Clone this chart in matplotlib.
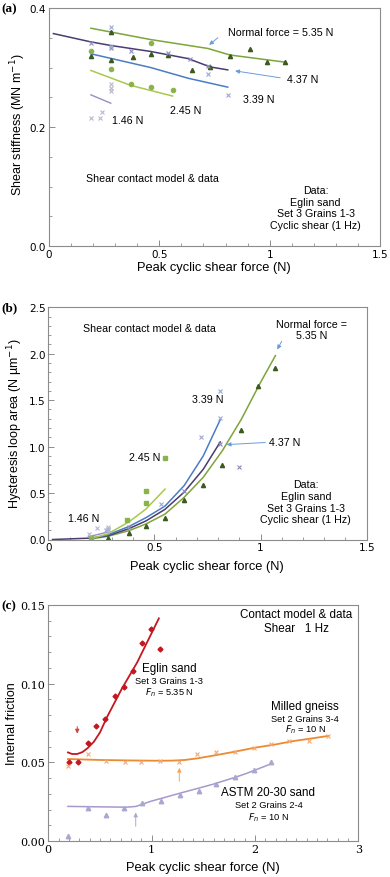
import matplotlib
matplotlib.use("Agg")
from matplotlib import pyplot as plt
from matplotlib.ticker import MultipleLocator, FixedLocator

# ---------------- panel (a): shear stiffness ----------------
a535_line_x = [0.19, 0.46, 0.72, 0.82, 1.07]
a535_line_y = [0.366, 0.347, 0.332, 0.321, 0.309]
a535_pts_x = [0.19, 0.28, 0.38, 0.46, 0.54, 0.65, 0.73, 0.82, 0.91, 0.99, 1.07, 0.28]
a535_pts_y = [0.320, 0.312, 0.317, 0.322, 0.321, 0.296, 0.301, 0.319, 0.331, 0.309, 0.309, 0.360]

a437_line_x = [0.02, 0.19, 0.28, 0.46, 0.63, 0.73, 0.81]
a437_line_y = [0.357, 0.343, 0.337, 0.327, 0.315, 0.301, 0.296]
a437_pts_x = [0.19, 0.28, 0.37, 0.54, 0.64, 0.72]
a437_pts_y = [0.342, 0.332, 0.328, 0.325, 0.314, 0.302]

a339_line_x = [0.19, 0.46, 0.63, 0.81]
a339_line_y = [0.323, 0.300, 0.282, 0.267]
a339_pts_x = [0.28, 0.28, 0.72, 0.81]
a339_pts_y = [0.368, 0.336, 0.289, 0.253]

a245_line_x = [0.19, 0.37, 0.56]
a245_line_y = [0.295, 0.270, 0.252]
a245_pts_x = [0.19, 0.28, 0.37, 0.46, 0.56, 0.46]
a245_pts_y = [0.327, 0.297, 0.272, 0.267, 0.263, 0.341]

a146_line_x = [0.19, 0.28]
a146_line_y = [0.254, 0.240]
a146_pts_x = [0.19, 0.23, 0.24, 0.28, 0.28, 0.28]
a146_pts_y = [0.215, 0.215, 0.225, 0.272, 0.266, 0.261]

# ---------------- panel (b): hysteresis loop area ----------------
b535_line_x = [0.20, 0.28, 0.38, 0.46, 0.55, 0.64, 0.73, 0.82, 0.91, 1.00, 1.07]
b535_line_y = [0.005, 0.034, 0.095, 0.167, 0.274, 0.454, 0.670, 0.956, 1.297, 1.692, 1.98]
b535_pts_x = [0.28, 0.38, 0.46, 0.55, 0.64, 0.73, 0.82, 0.91, 0.99, 1.07]
b535_pts_y = [0.02, 0.074, 0.14, 0.23, 0.42, 0.59, 0.80, 1.18, 1.65, 1.85]

b437_line_x = [0.02, 0.20, 0.28, 0.38, 0.46, 0.55, 0.64, 0.73, 0.81]
b437_line_y = [0.0, 0.015, 0.04, 0.117, 0.20, 0.325, 0.51, 0.756, 1.05]
b437_pts_x = [0.28, 0.38, 0.64, 0.81, 0.90]
b437_pts_y = [0.11, 0.13, 0.52, 1.03, 0.78]

b339_line_x = [0.20, 0.28, 0.38, 0.46, 0.55, 0.64, 0.73, 0.81]
b339_line_y = [0.01, 0.05, 0.14, 0.235, 0.36, 0.58, 0.90, 1.29]
b339_pts_x = [0.27, 0.53, 0.72, 0.81, 0.81]
b339_pts_y = [0.10, 0.38, 1.10, 1.31, 1.60]

b245_line_x = [0.20, 0.28, 0.38, 0.46, 0.55]
b245_line_y = [0.01, 0.06, 0.19, 0.328, 0.543]
b245_pts_x = [0.20, 0.37, 0.46, 0.46, 0.55]
b245_pts_y = [0.013, 0.213, 0.393, 0.525, 0.877]

b146_line_x = [0.19, 0.28]
b146_line_y = [0.03, 0.08]
b146_pts_x = [0.19, 0.23, 0.28, 0.28]
b146_pts_y = [0.06, 0.12, 0.13, 0.10]

# ---------------- panel (c): internal friction ----------------
eglin_line_x = [0.19, 0.23, 0.28, 0.33, 0.38, 0.44, 0.50, 0.57, 0.71, 0.86, 1.07]
eglin_line_y = [0.0563, 0.0553, 0.0553, 0.0565, 0.0590, 0.0630, 0.0690, 0.0790, 0.0966, 0.1135, 0.1415]
eglin_pts_x = [0.20, 0.29, 0.38, 0.46, 0.55, 0.65, 0.73, 0.82, 0.91, 0.99, 1.08]
eglin_pts_y = [0.050, 0.050, 0.0623, 0.073, 0.0775, 0.0919, 0.0977, 0.108, 0.126, 0.135, 0.122]

gneiss_line_x = [0.19, 0.50, 0.80, 1.08, 1.20, 1.32, 1.44, 1.60, 1.80, 1.99, 2.20, 2.37, 2.55, 2.71]
gneiss_line_y = [0.0521, 0.0515, 0.0512, 0.0510, 0.0511, 0.0515, 0.0525, 0.0543, 0.0567, 0.0592, 0.0614,
                 0.0635, 0.0652, 0.0668]
gneiss_pts_x = [0.19, 0.38, 0.56, 0.74, 0.90, 1.08, 1.26, 1.44, 1.62, 1.81, 1.99, 2.16, 2.33, 2.52, 2.71]
gneiss_pts_y = [0.0475, 0.0553, 0.0510, 0.0500, 0.0504, 0.0510, 0.0500, 0.0553, 0.0563, 0.0567, 0.0589,
                0.0616, 0.0637, 0.0637, 0.0665]

astm_line_x = [0.19, 0.50, 0.76, 0.85, 0.92, 0.99, 1.10, 1.28, 1.45, 1.60, 1.80, 1.92, 2.15]
astm_line_y = [0.0220, 0.0217, 0.0215, 0.0220, 0.0236, 0.0252, 0.0272, 0.0305, 0.0335, 0.0362, 0.0403,
               0.0430, 0.0489]
astm_pts_x = [0.19, 0.38, 0.56, 0.73, 0.91, 1.09, 1.27, 1.46, 1.62, 1.81, 1.99, 2.16]
astm_pts_y = [0.0030, 0.0210, 0.0165, 0.0210, 0.0241, 0.0256, 0.0294, 0.0315, 0.0362, 0.0404, 0.0453, 0.0504]

# tick positions / labels
ab_xticks = [0, 0.5, 1, 1.5]
ab_xlabels = ["0", "0.5", "1", "1.5"]
a_yticks = [0, 0.2, 0.4]
a_ylabels = ["0.0", "0.2", "0.4"]
b_yticks = [0, 0.5, 1.0, 1.5, 2.0, 2.5]
b_ylabels = ["0.0", "0.5", "1.0", "1.5", "2.0", "2.5"]
c_xticks = [0, 1, 2, 3]
c_xlabels = ["0", "1", "2", "3"]
c_yticks = [0, 0.05, 0.10, 0.15]
c_ylabels = ["0.00", "0.05", "0.10", "0.15"]

W, H = 390, 878
SANS = "Liberation Sans"
GRID = "#8c8c8c"

fig = plt.figure(figsize=(W / 100, H / 100), dpi=100)


def box(l, t, r, b):
    return [l / W, 1 - b / H, (r - l) / W, (b - t) / H]


def style(ax, xt, xl, yt, yl, xminor, yminor, tickfont="DejaVu Sans", size=7.5):
    ax.xaxis.set_major_locator(FixedLocator(xt))
    ax.set_xticklabels(xl)
    ax.yaxis.set_major_locator(FixedLocator(yt))
    ax.set_yticklabels(yl)
    ax.xaxis.set_minor_locator(MultipleLocator(xminor))
    ax.yaxis.set_minor_locator(MultipleLocator(yminor))
    for s in ax.spines.values():
        s.set_color(GRID)
        s.set_linewidth(0.8)
    ax.tick_params(which="both", direction="in", colors=GRID, labelcolor="black",
                   labelsize=size, pad=2)
    ax.tick_params(which="major", length=4, width=0.7)
    ax.tick_params(which="minor", length=2.5, width=0.6)
    for lab in ax.get_xticklabels() + ax.get_yticklabels():
        lab.set_family(tickfont)


green_dk = "#3c5a1e"
green_ln = "#7ea43a"
purple_ln = "#4a3c70"
blue_ln = "#4a7cc4"
lime_ln = "#a9c94a"
lav_ln = "#9a8cc8"
arrow_c = "#6c9cd8"

# ---- (a)
ax = fig.add_axes(box(49, 9, 380, 247))
ax.plot(a535_line_x, a535_line_y, color=green_ln, lw=1.1)
ax.plot(a437_line_x, a437_line_y, color=purple_ln, lw=1.1)
ax.plot(a339_line_x, a339_line_y, color=blue_ln, lw=1.1)
ax.plot(a245_line_x, a245_line_y, color=lime_ln, lw=1.1)
ax.plot(a146_line_x, a146_line_y, color=lav_ln, lw=1.0)
ax.plot(a535_pts_x, a535_pts_y, "^", color=green_dk, ms=3, ls="none")
ax.plot(a437_pts_x, a437_pts_y, "x", color="#8c8cc0", ms=3, mew=0.8, ls="none")
ax.plot(a339_pts_x, a339_pts_y, "x", color="#9aa8d8", ms=3, mew=0.8, ls="none")
ax.plot(a245_pts_x, a245_pts_y, "o", color="#8ab44a", ms=3, ls="none")
ax.plot(a146_pts_x, a146_pts_y, "x", color="#b8b8cc", ms=3, mew=0.8, ls="none")
ax.set_xlim(0, 1.5)
ax.set_ylim(0, 0.4)
style(ax, ab_xticks, ab_xlabels, a_yticks, a_ylabels, 0.1, 0.05)
ax.text(0.81, 0.36, "Normal force = 5.35 N", family=SANS, fontsize=7.7, va="center")
ax.annotate("", xy=(0.716, 0.335), xytext=(0.775, 0.353),
            arrowprops=dict(arrowstyle="-|>", color=arrow_c, lw=0.7, mutation_scale=6))
ax.text(1.08, 0.281, "4.37 N", family=SANS, fontsize=7.7, va="center")
ax.annotate("", xy=(0.831, 0.295), xytext=(1.06, 0.282),
            arrowprops=dict(arrowstyle="-|>", color=arrow_c, lw=0.7, mutation_scale=6))
ax.text(0.88, 0.247, "3.39 N", family=SANS, fontsize=7.7, va="center")
ax.text(0.548, 0.229, "2.45 N", family=SANS, fontsize=7.7, va="center")
ax.text(0.285, 0.211, "1.46 N", family=SANS, fontsize=7.7, va="center")
ax.text(0.168, 0.115, "Shear contact model & data", family=SANS, fontsize=7.7, va="center")
ax.text(1.208, 0.065, "Data:\nEglin sand\nSet 3 Grains 1-3\nCyclic shear (1 Hz)", family=SANS,
        fontsize=7.7, ha="center", va="center", linespacing=1.2)
fig.text(214 / W, 1 - 268 / H, "Peak cyclic shear force (N)", family=SANS, fontsize=9.3,
         ha="center", va="center")
fig.text(18 / W, 1 - 125 / H, "Shear stiffness (MN m$^{-1}$)", family=SANS, fontsize=9,
         rotation=90, ha="center", va="center")
fig.text(1 / W, 1 - 9 / H, "(a)", family="Liberation Serif", fontweight="bold", fontsize=9.5,
         va="center")

# ---- (b)
ax = fig.add_axes(box(48.3, 308.3, 366.7, 540.5))
ax.plot(b535_line_x, b535_line_y, color=green_ln, lw=1.1)
ax.plot(b437_line_x, b437_line_y, color=purple_ln, lw=1.1)
ax.plot(b339_line_x, b339_line_y, color=blue_ln, lw=1.1)
ax.plot(b245_line_x, b245_line_y, color=lime_ln, lw=1.1)
ax.plot(b146_line_x, b146_line_y, color=lav_ln, lw=1.0)
ax.plot(b535_pts_x, b535_pts_y, "^", color=green_dk, ms=3, ls="none")
ax.plot(b437_pts_x, b437_pts_y, "x", color="#8c8cc0", ms=3, mew=0.8, ls="none")
ax.plot(b339_pts_x, b339_pts_y, "x", color="#9aa8d8", ms=3, mew=0.8, ls="none")
ax.plot(b245_pts_x, b245_pts_y, "s", color="#8ab44a", ms=3, ls="none")
ax.plot(b146_pts_x, b146_pts_y, "x", color="#b8b8cc", ms=3, mew=0.8, ls="none")
ax.set_xlim(0, 1.5)
ax.set_ylim(0, 2.5)
style(ax, ab_xticks, ab_xlabels, b_yticks, b_ylabels, 0.1, 0.1)
ax.text(0.163, 2.28, "Shear contact model & data", family=SANS, fontsize=7.7, va="center")
ax.text(1.24, 2.26, "Normal force =\n5.35 N", family=SANS, fontsize=7.7, ha="center",
        va="center", linespacing=1.2)
ax.annotate("", xy=(1.072, 2.02), xytext=(1.106, 2.16),
            arrowprops=dict(arrowstyle="-|>", color=arrow_c, lw=0.7, mutation_scale=6))
ax.text(0.75, 1.51, "3.39 N", family=SANS, fontsize=7.7, ha="center", va="center")
ax.text(1.04, 1.046, "4.37 N", family=SANS, fontsize=7.7, va="center")
ax.annotate("", xy=(0.827, 1.02), xytext=(1.035, 1.046),
            arrowprops=dict(arrowstyle="-|>", color=arrow_c, lw=0.7, mutation_scale=6))
ax.text(0.38, 0.885, "2.45 N", family=SANS, fontsize=7.7, va="center")
ax.text(0.095, 0.23, "1.46 N", family=SANS, fontsize=7.7, va="center")
ax.text(1.213, 0.405, "Data:\nEglin sand\nSet 3 Grains 1-3\nCyclic shear (1 Hz)", family=SANS,
        fontsize=7.7, ha="center", va="center", linespacing=1.2)
fig.text(207 / W, 1 - 567 / H, "Peak cyclic shear force (N)", family=SANS, fontsize=9.3,
         ha="center", va="center")
fig.text(15 / W, 1 - 424 / H, "Hysteresis loop area (N \u00b5m$^{-1}$)", family=SANS, fontsize=9,
         rotation=90, ha="center", va="center")
fig.text(1 / W, 1 - 308 / H, "(b)", family="Liberation Serif", fontweight="bold", fontsize=9.5,
         va="center")

# ---- (c)
red = "#c41820"
orange = "#ec8a30"
lav = "#a898cc"
ax = fig.add_axes(box(48.3, 606, 358.3, 842))
ax.plot(eglin_line_x, eglin_line_y, color=red, lw=1.3)
ax.plot(gneiss_line_x, gneiss_line_y, color=orange, lw=1.3)
ax.plot(astm_line_x, astm_line_y, color=lav, lw=1.1)
ax.plot(eglin_pts_x, eglin_pts_y, "D", color=red, ms=2.5, ls="none")
ax.plot(gneiss_pts_x, gneiss_pts_y, "x", color="#f0aa78", ms=3, mew=0.8, ls="none")
ax.plot(astm_pts_x, astm_pts_y, "^", color="#a8a8d0", ms=3.2, ls="none")
ax.annotate("", xy=(0.28, 0.0665), xytext=(0.28, 0.0745),
            arrowprops=dict(arrowstyle="-|>", color="#d04040", lw=0.7, mutation_scale=6))
ax.annotate("", xy=(1.268, 0.0483), xytext=(1.268, 0.0362),
            arrowprops=dict(arrowstyle="-|>", color="#f0a860", lw=0.7, mutation_scale=6))
ax.annotate("", xy=(0.846, 0.0199), xytext=(0.846, 0.0076),
            arrowprops=dict(arrowstyle="-|>", color="#b0a8cc", lw=0.7, mutation_scale=6))
ax.set_xlim(0, 3)
ax.set_ylim(0, 0.15)
style(ax, c_xticks, c_xlabels, c_yticks, c_ylabels, 0.1, 0.01, tickfont="DejaVu Serif", size=8)
ax.text(2.40, 0.1440, "Contact model & data", family=SANS, fontsize=8.4, ha="center", va="center")
ax.text(2.40, 0.1355, "Shear   1 Hz", family=SANS, fontsize=8.4, ha="center", va="center")
ax.text(1.168, 0.1100, "Eglin sand", family=SANS, fontsize=8.4, ha="center", va="center")
ax.text(1.168, 0.1019, "Set 3 Grains 1-3", family=SANS, fontsize=6.7, ha="center", va="center")
ax.text(1.168, 0.0949, "$F_n$ = 5.35 N", family=SANS, fontsize=6.7, ha="center", va="center")
ax.text(2.485, 0.0856, "Milled gneiss", family=SANS, fontsize=8.4, ha="center", va="center")
ax.text(2.485, 0.0780, "Set 2 Grains 3-4", family=SANS, fontsize=6.7, ha="center", va="center")
ax.text(2.485, 0.0712, "$F_n$ = 10 N", family=SANS, fontsize=6.7, ha="center", va="center")
ax.text(2.13, 0.0313, "ASTM 20-30 sand", family=SANS, fontsize=8.4, ha="center", va="center")
ax.text(2.13, 0.0229, "Set 2 Grains 2-4", family=SANS, fontsize=6.7, ha="center", va="center")
ax.text(2.13, 0.0157, "$F_n$ = 10 N", family=SANS, fontsize=6.7, ha="center", va="center")
fig.text(203 / W, 1 - 868 / H, "Peak cyclic shear force (N)", family=SANS, fontsize=9.3,
         ha="center", va="center")
fig.text(12 / W, 1 - 724 / H, "Internal friction", family=SANS, fontsize=9,
         rotation=90, ha="center", va="center")
fig.text(1 / W, 1 - 606 / H, "(c)", family="Liberation Serif", fontweight="bold", fontsize=9.5,
         va="center")

fig.savefig("out.png", dpi=100)
